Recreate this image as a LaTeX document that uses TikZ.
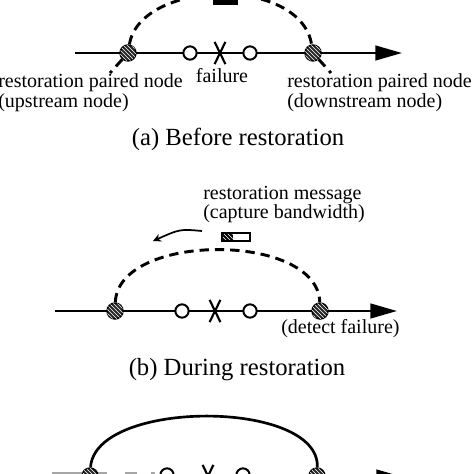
\documentclass[tikz,border=0pt]{standalone}
\usepackage{fontspec}
\setmainfont{Liberation Serif}
\usetikzlibrary{arrows.meta,patterns,shapes.misc}

\tikzset{
  pairedNode/.style={circle, draw, line width=1.1pt, fill=black!85, minimum size=12pt, inner sep=0pt,
    postaction={pattern=north west lines, pattern color=white}},
  plainNode/.style={circle, draw, line width=1.5pt, fill=white, minimum size=10pt, inner sep=0pt},
  failNode/.style={cross out, draw, line width=1.6pt, minimum width=6.5pt, minimum height=15pt, inner sep=0pt},
  linkLine/.style={line width=1.8pt, -{Triangle[length=20pt,width=11pt]}},
  backupPath/.style={line width=2.2pt, dash pattern=on 7pt off 4.5pt},
  restoredPath/.style={line width=2pt},
  tagText/.style={font=\fontsize{15}{14.6}\selectfont, inner sep=0pt, align=left},
  captionText/.style={font=\fontsize{18.5}{22}\selectfont, inner sep=0pt, anchor=base},
}

\begin{document}
\begin{tikzpicture}[x=0.75pt, y=-0.75pt]
    \useasboundingbox (0,0) rectangle (474,474);
    \clip (0,0) rectangle (474,474);

    % (a) before restoration
    \coordinate (startA) at (75,53);
    \coordinate (endA) at (402,53);
    \draw[linkLine] (startA) -- (endA);
    \node[pairedNode] (upA) at (128,53) {};
    \node[plainNode] (leftA) at (190,53) {};
    \node[failNode] (failA) at (220,53) {};
    \node[plainNode] (rightA) at (250,53) {};
    \node[pairedNode] (downA) at (313,53) {};

    \coordinate (stubUpA) at (110,73);
    \coordinate (stubDownA) at (331,73);
    \draw[backupPath] (upA) .. controls (140,-20) and (300,-25) .. (downA);
    \draw[backupPath] (upA) -- (stubUpA);
    \draw[backupPath] (downA) -- (stubDownA);
    \fill (213,-2) rectangle (238,5);

    \node[tagText, anchor=north west] (upTagA) at (-2,73.5) {restoration paired node\\(upstream node)};
    \node[tagText, anchor=base] (failTagA) at (222,83) {failure};
    \node[tagText, anchor=north west] (downTagA) at (287,73.5) {restoration paired node\\(downstream node)};
    \node[captionText] (captionA) at (238,146) {(a) Before restoration};

    % (b) during restoration
    \coordinate (startB) at (55,311);
    \coordinate (endB) at (397,311);
    \draw[linkLine] (startB) -- (endB);
    \node[pairedNode] (upB) at (115,311) {};
    \node[plainNode] (leftB) at (182,311) {};
    \node[failNode] (failB) at (215,311) {};
    \node[plainNode] (rightB) at (250,311) {};
    \node[pairedNode] (downB) at (320,311) {};
    \draw[backupPath] (upB) .. controls (118,232) and (318,232) .. (downB);

    \node[tagText, anchor=north west] (msgTag) at (203,185.5) {restoration message\\(capture bandwidth)};
    \node[draw, line width=1.2pt, minimum width=21pt, minimum height=6pt, inner sep=0pt,
      path picture={\fill[black] (path picture bounding box.south west) rectangle ([xshift=8pt]path picture bounding box.north west);
        \fill[pattern=north west lines, pattern color=white] (path picture bounding box.south west) rectangle ([xshift=8pt]path picture bounding box.north west);}]
      (msgBox) at (236,237) {};
    \coordinate (msgTail) at (202,231);
    \coordinate (msgHead) at (153,241);
    \draw[line width=1.3pt, -{Stealth[length=6pt,width=6pt]}] (msgTail) .. controls (180,229) .. (msgHead);

    \node[tagText, anchor=base west] (detectTag) at (281,333) {(detect failure)};
    \node[captionText] (captionB) at (237,375) {(b) During restoration};

    % (c) after restoration
    \draw[black!35, line width=2.2pt, dash pattern=on 41pt off 13.5pt on 9pt off 11pt on 3pt off 300pt] (52,473) -- (400,473);
    \coordinate (startC) at (55,477);
    \coordinate (endC) at (403,477);
    \draw[linkLine] (startC) -- (endC);
    \node[pairedNode] (upC) at (90,476) {};
    \node[plainNode] (leftC) at (167,475) {};
    \node[failNode] (failC) at (208,476) {};
    \node[plainNode] (rightC) at (243,475) {};
    \node[pairedNode] (downC) at (317,476) {};
    \draw[restoredPath] (upC) .. controls (95,399) and (320,399) .. (downC);
\end{tikzpicture}
\end{document}
